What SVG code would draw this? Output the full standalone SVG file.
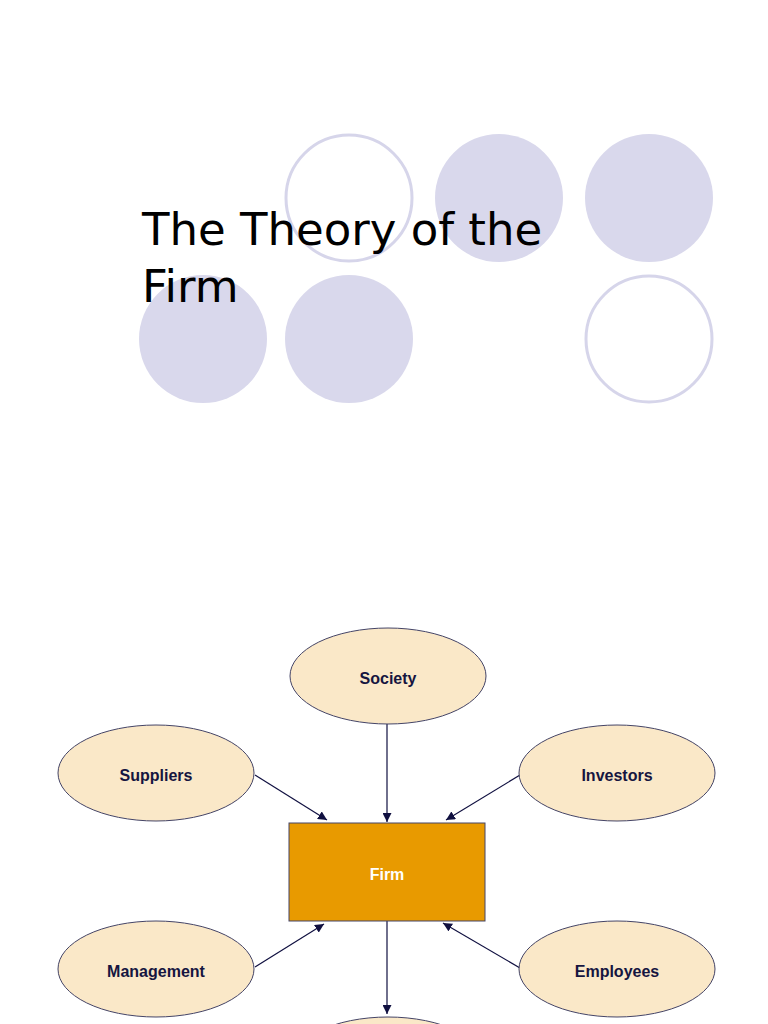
<svg xmlns="http://www.w3.org/2000/svg" width="768" height="1024" viewBox="0 0 768 1024">
<style>
.f{fill:#d9d8ec}.o{fill:none;stroke:#d6d5ea;stroke-width:3}
.e{fill:#fae8c8;stroke:#444466;stroke-width:1}
.t{font-family:"Liberation Sans",Arial,sans-serif;font-weight:bold;font-size:16px;fill:#151540;text-anchor:middle}
.c{stroke:#101040;stroke-width:1.2;fill:none;marker-end:url(#a)}
</style>
<defs><marker id="a" viewBox="0 0 10 10" refX="10" refY="5" markerWidth="9" markerHeight="9" markerUnits="userSpaceOnUse" orient="auto"><path d="M0,0L10,5L0,10z" fill="#101040"/></marker></defs>
<rect width="768" height="1024" fill="#fff"/>
<g id="circles">
<circle class="o" cx="349" cy="198" r="63"/>
<circle class="f" cx="499" cy="198" r="64"/>
<circle class="f" cx="649" cy="198" r="64"/>
<circle class="f" cx="203" cy="339" r="64"/>
<circle class="f" cx="349" cy="339" r="64"/>
<circle class="o" cx="649" cy="339" r="63"/>
</g>
<text x="142" y="245" font-family="DejaVu Sans,sans-serif" font-size="45" fill="#000">The Theory of the</text>
<text x="142" y="302" font-family="DejaVu Sans,sans-serif" font-size="45" fill="#000">Firm</text>
<g id="connectors">
<line class="c" x1="387" y1="724" x2="387" y2="822"/>
<line class="c" x1="255" y1="775" x2="327" y2="820"/>
<line class="c" x1="520" y1="775" x2="446" y2="820"/>
<line class="c" x1="255" y1="967" x2="324" y2="924"/>
<line class="c" x1="520" y1="968" x2="443" y2="923"/>
<line class="c" x1="387" y1="921" x2="387" y2="1014"/>
</g>
<g id="society"><ellipse class="e" cx="388" cy="676" rx="98" ry="48"/><text class="t" x="388" y="684">Society</text></g>
<g id="suppliers"><ellipse class="e" cx="156" cy="773" rx="98" ry="48"/><text class="t" x="156" y="781">Suppliers</text></g>
<g id="investors"><ellipse class="e" cx="617" cy="773" rx="98" ry="48"/><text class="t" x="617" y="781">Investors</text></g>
<g id="management"><ellipse class="e" cx="156" cy="969" rx="98" ry="48"/><text class="t" x="156" y="977">Management</text></g>
<g id="employees"><ellipse class="e" cx="617" cy="969" rx="98" ry="48"/><text class="t" x="617" y="977">Employees</text></g>
<g id="bottom"><ellipse class="e" cx="388" cy="1065" rx="98" ry="48"/></g>
<g id="firm"><rect x="289" y="823" width="196" height="98" fill="#e89a00" stroke="#444466"/><text class="t" x="387" y="880" fill="#fff" style="fill:#fff">Firm</text></g>
</svg>
